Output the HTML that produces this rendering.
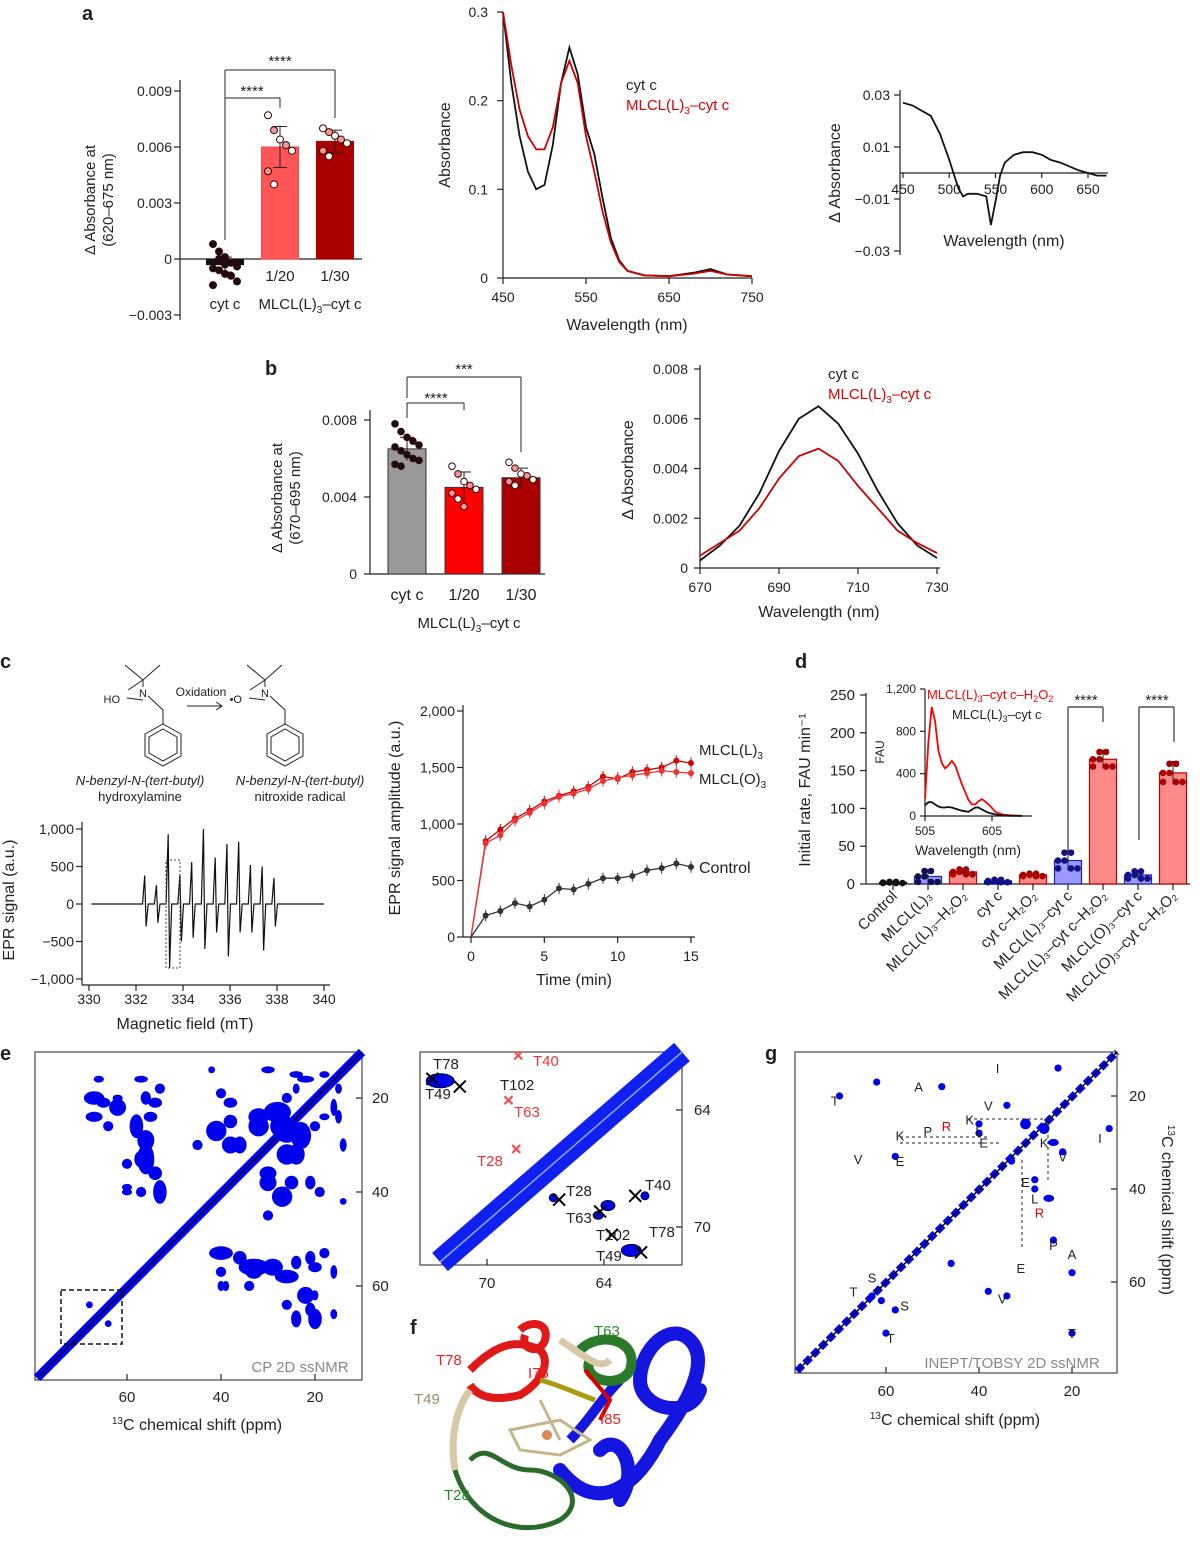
<!DOCTYPE html>
<html><head><meta charset="utf-8">
<style>
body{margin:0;background:#fff;}
svg{display:block;font-family:"Liberation Sans",sans-serif;}
text{fill:#222;}
</style></head>
<body>
<svg id="fig" width="1200" height="1544" viewBox="0 0 1200 1544" xmlns="http://www.w3.org/2000/svg">
<g id="root"></g>
</svg>
<script>
// ===== Data =====
const aCats=["cyt c","1/20","1/30"];
const aVals=[-0.0003,0.0060,0.0063];
const aErr=[0.0004,0.0011,0.0006];
const aPts=[[0.0008,0.0004,0.0001,-0.0002,-0.0004,-0.0005,-0.0006,-0.0008,-0.0009,-0.0012,-0.0014,0.0,-0.0003],[0.0077,0.0069,0.0064,0.0061,0.0058,0.0047,0.0040],[0.0070,0.0068,0.0066,0.0064,0.0062,0.0058,0.0055]];
const aWl=[450,460,470,480,490,500,510,520,530,540,550,560,570,580,590,600,620,650,680,700,720,750];
const aBlack=[0.3,0.22,0.16,0.12,0.1,0.105,0.15,0.22,0.26,0.23,0.17,0.14,0.09,0.045,0.02,0.008,0.003,0.002,0.006,0.01,0.004,0.002];
const aRed=[0.3,0.24,0.19,0.16,0.145,0.145,0.17,0.22,0.245,0.22,0.16,0.12,0.075,0.04,0.018,0.008,0.003,0.002,0.005,0.008,0.004,0.002];
const dWl=[450,460,470,480,490,500,510,515,520,530,540,545,550,555,560,570,580,590,600,610,620,640,660,670];
const dVal=[0.027,0.026,0.024,0.022,0.015,0.005,-0.006,-0.009,-0.008,-0.008,-0.009,-0.020,-0.011,-0.001,0.004,0.007,0.008,0.008,0.007,0.005,0.004,0.001,-0.001,-0.001];
const bCats=["cyt c","1/20","1/30"];
const bVals=[0.0065,0.0045,0.0050];
const bErr=[0.0006,0.0008,0.0005];
const bPts=[[0.0078,0.0074,0.0071,0.0069,0.0067,0.0066,0.0064,0.0062,0.0060,0.0059,0.0057,0.0056],[0.0056,0.0052,0.0048,0.0046,0.0044,0.0042,0.0039,0.0035],[0.0058,0.0055,0.0052,0.0051,0.0049,0.0048,0.0046]];
const bWl=[670,675,680,685,690,695,700,705,710,715,720,725,730];
const bBlack=[0.0003,0.0009,0.0017,0.0030,0.0047,0.0060,0.0065,0.0058,0.0046,0.0031,0.0018,0.0009,0.0004];
const bRed=[0.0005,0.0010,0.0015,0.0024,0.0036,0.0045,0.0048,0.0043,0.0033,0.0024,0.0015,0.0010,0.0006];
const eprPos=[332.4,332.9,333.4,333.9,334.4,334.9,335.4,335.9,336.4,336.9,337.4,337.9];
const eprUp=[380,250,930,400,560,1000,620,800,830,520,500,350];
const eprDn=[-300,-250,-850,-500,-450,-600,-380,-700,-380,-380,-620,-300];
const tTime=[1,2,3,4,5,6,7,8,9,10,11,12,13,14,15];
const kL=[850,950,1050,1120,1200,1250,1290,1330,1420,1400,1460,1480,1500,1560,1540];
const kO=[830,900,1030,1100,1180,1240,1270,1310,1380,1410,1430,1450,1470,1460,1450];
const kC=[190,230,300,270,330,430,420,470,520,520,540,590,610,650,620];
const dCats=["Control","MLCL(L)₃","MLCL(L)₃–H₂O₂","cyt c","cyt c–H₂O₂","MLCL(L)₃–cyt c","MLCL(L)₃–cyt c–H₂O₂","MLCL(O)₃–cyt c","MLCL(O)₃–cyt c–H₂O₂"];
const dVals=[2,10,16,4,12,31,165,12,147];
const dErr=[1,9,4,2,2,13,12,6,15];
const dInWl=[505,510,515,520,525,530,535,540,545,550,560,570,575,580,585,590,600,610,620,630,640,650];
const dInRed=[160,700,1030,900,620,500,450,480,520,480,300,150,110,110,140,160,110,40,15,8,4,2];
const dInBlack=[100,130,130,110,90,80,80,85,80,70,50,40,60,80,80,60,30,15,6,3,2,1];
const ePeaks=[[67,20,6,4],[65,21,4,3],[62,22,5,5],[53,18,3,3],[54,21,4,3],[67,24,5,3],[58,26,4,7],[57,33,4,5],[57,40,3,3],[60,40,3,2],[64,26,3,3],[40,19,3,3],[38,21,4,3],[41,27,6,6],[38,30,5,5],[32,26,6,6],[28,23,8,6],[26,27,7,7],[24,32,5,6],[30,36,5,4],[25,38,4,4],[20,26,3,3],[18,24,3,2],[16,22,2,5],[14,30,2,4],[42,14,2,2],[30,14,3,2],[24,15,4,2],[18,15,3,2],[40,53,7,4],[36,54,4,4],[33,56,9,5],[29,56,6,5],[24,55,3,4],[20,56,4,3],[20,62,2,3],[16,57,2,4],[16,66,2,3],[30,45,3,3],[34,60,3,3],[39,60,2,3],[64,68,2,2]];
const fPeaksBlack=[[72.8,62.4],[71.4,62.8],[66.3,68.6],[64.2,69.2],[62.4,68.4],[63.6,70.4],[62.1,71.3]];
const gPeaks=[[70,20,2,2],[62,17,2,2],[48,18,2,2],[40,28,2,2],[30,26,3,3],[26,27,3,3],[24,30,3,2],[22,32,2,2],[12,27,2,2],[58,33,2,2],[23,14,2,2],[34,22,2,2],[40,26,2,2],[28,40,2,2],[25,42,3,2],[46,56,2,2],[28,38,2,2],[20,58,2,2],[24,51,2,2],[63,63,2,2],[61,64,2,2],[58,66,2,2],[34,63,2,2],[60,71,2,2],[20,71,2,2],[38,62,2,2],[33,34,2,2]];
const gLabels=[["A",53,18,"#222"],["I",36,14,"#222"],["V",38,22,"#222"],["T",71,21,"#222"],["K",42,25,"#222"],["L",40,27.5,"#222"],["R",47,26.5,"#d00"],["P",51,27.5,"#222"],["K",57,28.5,"#222"],["E",39,30,"#222"],["V",66,33.5,"#222"],["E",57,34,"#222"],["K",26,30,"#222"],["V",22,33,"#222"],["I",14,29,"#222"],["E",30,38.5,"#222"],["L",28,42,"#222"],["R",27,45,"#d00"],["P",24,52,"#222"],["A",20,54,"#222"],["E",31,57,"#222"],["S",63,59,"#222"],["T",67,62,"#222"],["S",56,65,"#222"],["V",35,63.5,"#222"],["T",59,72,"#222"],["T",20,71,"#222"]];

const NS="http://www.w3.org/2000/svg";
const root=document.getElementById('root');
function el(tag,attrs,parent,txt){const e=document.createElementNS(NS,tag);for(const k in attrs)e.setAttribute(k,attrs[k]);if(txt!==undefined)e.textContent=txt;(parent||root).appendChild(e);return e;}
function lin(d0,d1,r0,r1){return v=>r0+(v-d0)*(r1-r0)/(d1-d0);}
function txt(x,y,s,size,anchor,parent,extra){return el('text',Object.assign({x:x,y:y,'font-size':size||14,'text-anchor':anchor||'middle'},extra||{}),parent,s);}
function line(x1,y1,x2,y2,parent,c,w){return el('line',{x1,y1,x2,y2,stroke:c||'#222','stroke-width':w||1.2},parent);}
function path(xs,ys,X,Y,c,w,parent){let d='';xs.forEach((v,i)=>{d+=(i?'L':'M')+X(v).toFixed(1)+','+Y(ys[i]).toFixed(1);});return el('path',{d,fill:'none',stroke:c,'stroke-width':w||1.5},parent);}
function panelLabel(s,x,y){const t=el('text',{x,y,'font-size':20,'font-weight':'bold'},root,s);}

panelLabel('a',82,20);panelLabel('b',265,375);panelLabel('c',0,668);panelLabel('d',795,668);panelLabel('e',0,1060);panelLabel('f',410,1334);panelLabel('g',765,1060);

(function(){
const g=el('g',{});
const Y=lin(0,0.009,259,91);const xs=[225,280,335];const bw=37;const cols=['#111','#f44','#a00'];const fills=['#111','#f55','#a00'];
line(180,80,180,320,g);
[[0.009,'0.009'],[0.006,'0.006'],[0.003,'0.003'],[0,'0'],[-0.003,'−0.003']].forEach(([v,s])=>{line(174,Y(v),180,Y(v),g);txt(172,Y(v)+5,s,14,'end',g);});
line(180,259,362,259,g);
aVals.forEach((v,i)=>{const b=el('rect',{x:xs[i]-bw/2,y:Math.min(Y(v),259),width:bw,height:Math.abs(Y(v)-259),fill:fills[i],stroke:cols[i]},g);
line(xs[i],Y(v+aErr[i]),xs[i],Y(v-aErr[i]),g,'#222',1);line(xs[i]-7,Y(v+aErr[i]),xs[i]+7,Y(v+aErr[i]),g,'#222',1);line(xs[i]-7,Y(v-aErr[i]),xs[i]+7,Y(v-aErr[i]),g,'#222',1);
aPts[i].forEach((p,j)=>{el('circle',{cx:xs[i]-12+(j%5)*6,cy:Y(p),r:3.5,fill:i==0?'#111':(j%2?'#e99':'#fff'),stroke:'#400','stroke-width':1},g);});});
txt(225,309,'cyt c',15,'middle',g);txt(280,281,'1/20',15,'middle',g);txt(335,281,'1/30',15,'middle',g);
const t=txt(310,309,'MLCL(L)',15,'middle',g);el('tspan',{'font-size':10,dy:4},t,'3');el('tspan',{dy:-4},t,'–cyt c');
line(225,240,225,70,g,'#222',1);line(225,70,335,70,g,'#222',1);line(335,70,335,118,g,'#222',1);txt(280,66,'****',15,'middle',g);
line(225,98,280,98,g,'#222',1);line(280,98,280,108,g,'#222',1);txt(252,96,'****',15,'middle',g);
txt(0,0,'Δ Absorbance at',15,'middle',g,{transform:'translate(95,200) rotate(-90)'});
txt(0,0,'(620–675 nm)',15,'middle',g,{transform:'translate(113,200) rotate(-90)'});
})();

(function(){
const g=el('g',{});
const X=lin(450,750,503,752),Y=lin(0,0.3,278,12);
line(503,12,503,278,g);line(503,278,752,278,g);
[0,0.1,0.2,0.3].forEach(v=>{line(497,Y(v),503,Y(v),g);txt(488,Y(v)+5,String(v),14,'end',g);});
[450,550,650,750].forEach(v=>{line(X(v),278,X(v),284,g);txt(X(v),302,String(v),14,'middle',g);});
path(aWl,aBlack,X,Y,'#111',1.8,g);path(aWl,aRed,X,Y,'#c00',1.8,g);
txt(627,330,'Wavelength (nm)',16,'middle',g);txt(0,0,'Absorbance',16,'middle',g,{transform:'translate(450,145) rotate(-90)'});
txt(626,90,'cyt c',15,'start',g);const t=txt(626,110,'MLCL(L)',15,'start',g);t.style.fill='#d00';el('tspan',{'font-size':10,dy:4},t,'3');el('tspan',{dy:-4},t,'–cyt c');
})();

(function(){
const g=el('g',{});
const X=lin(450,650,903,1088),Y=lin(0.03,-0.03,95,251);
line(900,90,900,255,g);line(900,Y(0),1108,Y(0),g);
[[0.03,'0.03'],[0.01,'0.01'],[-0.01,'−0.01'],[-0.03,'−0.03']].forEach(([v,s])=>{line(894,Y(v),900,Y(v),g);txt(890,Y(v)+5,s,14,'end',g);});
[450,500,550,600,650].forEach(v=>{line(X(v),Y(0),X(v),Y(0)+5,g);txt(X(v),194,String(v),14,'middle',g);});
path(dWl,dVal,X,Y,'#111',1.8,g);
txt(1004,246,'Wavelength (nm)',16,'middle',g);txt(0,0,'Δ Absorbance',16,'middle',g,{transform:'translate(840,173) rotate(-90)'});
})();

(function(){
const g=el('g',{});
const Y=lin(0,0.008,574,420);const xs=[407,464,521];const bw=38;const fills=['#999','#f00','#a00'];
line(370,410,370,574,g);line(370,574,545,574,g);
[[0.008,'0.008'],[0.004,'0.004'],[0,'0']].forEach(([v,s])=>{line(364,Y(v),370,Y(v),g);txt(357,Y(v)+5,s,14,'end',g);});
bVals.forEach((v,i)=>{const b=el('rect',{x:xs[i]-bw/2,y:Y(v),width:bw,height:574-Y(v),fill:fills[i],stroke:'#333'},g);
line(xs[i],Y(v+bErr[i]),xs[i],Y(v-bErr[i]),g,'#222',1);line(xs[i]-7,Y(v+bErr[i]),xs[i]+7,Y(v+bErr[i]),g,'#222',1);
bPts[i].forEach((p,j)=>{el('circle',{cx:xs[i]-12+(j%5)*6,cy:Y(p),r:3.3,fill:i==0?'#111':(j%2?'#e99':'#fff'),stroke:'#400'},g);});
txt(xs[i],600,bCats[i],16,'middle',g);});
const t=txt(469,628,'MLCL(L)',15,'middle',g);el('tspan',{'font-size':10,dy:4},t,'3');el('tspan',{dy:-4},t,'–cyt c');
line(407,418,407,403,g,'#222',1);line(407,403,464,403,g,'#222',1);line(464,403,464,410,g,'#222',1);txt(436,403,'****',15,'middle',g);
line(407,398,407,377,g,'#222',1);line(407,377,521,377,g,'#222',1);line(521,377,521,452,g,'#222',1);txt(464,374,'***',15,'middle',g);
txt(0,0,'Δ Absorbance at',15,'middle',g,{transform:'translate(282,498) rotate(-90)'});txt(0,0,'(670–695 nm)',15,'middle',g,{transform:'translate(300,498) rotate(-90)'});
})();

(function(){
const g=el('g',{});
const X=lin(670,730,700,937),Y=lin(0,0.008,568,369);
line(700,365,700,568,g);line(700,568,940,568,g);
[[0,'0'],[0.002,'0.002'],[0.004,'0.004'],[0.006,'0.006'],[0.008,'0.008']].forEach(([v,s])=>{line(694,Y(v),700,Y(v),g);txt(688,Y(v)+5,s,14,'end',g);});
[670,690,710,730].forEach(v=>{line(X(v),568,X(v),574,g);txt(X(v),592,String(v),14,'middle',g);});
path(bWl,bBlack,X,Y,'#111',1.8,g);path(bWl,bRed,X,Y,'#c00',1.8,g);
txt(819,617,'Wavelength (nm)',16,'middle',g);txt(0,0,'Δ Absorbance',16,'middle',g,{transform:'translate(633,470) rotate(-90)'});
txt(828,379,'cyt c',15,'start',g);const t=txt(828,399,'MLCL(L)',15,'start',g);t.style.fill='#d00';el('tspan',{'font-size':10,dy:4},t,'3');el('tspan',{dy:-4},t,'–cyt c');
})();

(function(){
const g=el('g',{});
function mol(ox,radical){
 el('path',{d:`M${ox+125},665 L${ox+143},680 L${ox+160},665 M${ox+143},680 L${ox+128},690 M${ox+143},680 L${ox+143},687 M${ox+143},700 L${ox+127},698 M${ox+148},696 L${ox+163},710 L${ox+163},724`,fill:'none',stroke:'#222'},g);
 txt(ox+143,697,'N',11,'middle',g);txt(ox+120,703,radical?'•O':'HO',11,'end',g);
 el('polygon',{points:`${ox+163},724 ${ox+181},734 ${ox+181},756 ${ox+163},766 ${ox+145},756 ${ox+145},734`,fill:'none',stroke:'#222'},g);
 el('polygon',{points:`${ox+163},729 ${ox+177},737 ${ox+177},753 ${ox+163},761 ${ox+149},753 ${ox+149},737`,fill:'none',stroke:'#222'},g);
}
mol(0,false);mol(122,true);
el('path',{d:'M187,706 L222,706 M216,702 L222,706 L216,710',fill:'none',stroke:'#222'},g);txt(201,696,'Oxidation',12,'middle',g);
txt(140,785,'N-benzyl-N-(tert-butyl)',13,'middle',g,{'font-style':'italic'});txt(140,801,'hydroxylamine',13,'middle',g);
txt(300,785,'N-benzyl-N-(tert-butyl)',13,'middle',g,{'font-style':'italic'});txt(300,801,'nitroxide radical',13,'middle',g);
})();

(function(){
const g=el('g',{});
const X=lin(330,340,89,324),Y=lin(0,1000,904,829);
line(82,822,82,985,g);line(82,985,330,985,g);
[[1000,'1,000'],[500,'500'],[0,'0'],[-500,'−500'],[-1000,'−1,000']].forEach(([v,s])=>{line(76,Y(v),82,Y(v),g);txt(74,Y(v)+5,s,14,'end',g);});
[330,332,334,336,338,340].forEach(v=>{line(X(v),985,X(v),991,g);txt(X(v),1004,String(v),14,'middle',g);});
let d=`M${X(330.1)},${Y(0)}`;eprPos.forEach((p,i)=>{d+=` L${X(p-0.12)},${Y(0)} L${X(p-0.03)},${Y(eprUp[i])} L${X(p+0.03)},${Y(eprDn[i])} L${X(p+0.12)},${Y(0)}`;});d+=` L${X(340)},${Y(0)}`;
el('path',{d,fill:'none',stroke:'#111','stroke-width':1.2},g);
el('rect',{x:166,y:860,width:14,height:108,fill:'none',stroke:'#444','stroke-dasharray':'2,2'},g);
txt(185,1029,'Magnetic field (mT)',16,'middle',g);txt(0,0,'EPR signal (a.u.)',16,'middle',g,{transform:'translate(14,900) rotate(-90)'});
})();

(function(){
const g=el('g',{});
const X=lin(0,15,471,691),Y=lin(0,2000,937,711);
line(463,705,463,937,g);line(463,937,695,937,g);
[0,500,1000,1500,2000].forEach(v=>{line(457,Y(v),463,Y(v),g);txt(455,Y(v)+5,v>=1000?v.toLocaleString('en-US'):String(v),14,'end',g);});
[0,5,10,15].forEach(v=>{line(X(v),937,X(v),943,g);txt(X(v),961,String(v),14,'middle',g);});
[[kL,'#c00'],[kO,'#e33'],[kC,'#333']].forEach(([arr,c])=>{path([0].concat(tTime),[0].concat(arr),X,Y,c,1.3,g);arr.forEach((v,i)=>{line(X(tTime[i]),Y(v+50),X(tTime[i]),Y(v-50),g,c,1);el('circle',{cx:X(tTime[i]),cy:Y(v),r:3,fill:c},g);});});
txt(574,985,'Time (min)',16,'middle',g);txt(0,0,'EPR signal amplitude (a.u.)',16,'middle',g,{transform:'translate(400,818) rotate(-90)'});
let t=txt(699,755,'MLCL(L)',15,'start',g);el('tspan',{'font-size':10,dy:4},t,'3');
t=txt(699,784,'MLCL(O)',15,'start',g);el('tspan',{'font-size':10,dy:4},t,'3');
txt(699,873,'Control',16,'start',g);
})();

(function(){
const g=el('g',{});
const Y=lin(0,250,884,695);const X=i=>893+i*35;const bw=27;
const fills=['#111','#99f','#f88','#00a','#f88','#99f','#f88','#99f','#f88'];const strokes=['#111','#22a','#b00','#00a','#b00','#22a','#b00','#22a','#b00'];const dots=['#111','#115','#a00','#118','#a00','#118','#a00','#118','#a00'];
line(866,693,866,884,g);line(866,884,1190,884,g);
[0,50,100,150,200,250].forEach(v=>{line(860,Y(v),866,Y(v),g);txt(855,Y(v)+5,String(v),15,'end',g);});
dVals.forEach((v,i)=>{const b=el('rect',{x:X(i)-bw/2,y:Y(v),width:bw,height:884-Y(v),fill:fills[i],stroke:strokes[i],'stroke-width':1.2},g);
line(X(i),Y(v+dErr[i]),X(i),Y(v-dErr[i]),g,'#222',1);line(X(i)-6,Y(v+dErr[i]),X(i)+6,Y(v+dErr[i]),g,'#222',1);
for(let j=0;j<7;j++){el('circle',{cx:X(i)-10+(j%4)*6.5,cy:Y(v+dErr[i]*((j%3)-1)*0.8),r:3.3,fill:dots[i]},g);}
line(X(i),884,X(i),890,g);
txt(0,0,dCats[i],15,'end',g,{transform:`translate(${X(i)+5},${897}) rotate(-45)`});});
line(1068,855,1068,707,g,'#333',1.2);line(1068,707,1103,707,g,'#333',1.2);line(1103,707,1103,722,g,'#333',1.2);txt(1086,705,'****',15,'middle',g);
line(1139,840,1139,707,g,'#333',1.2);line(1139,707,1174,707,g,'#333',1.2);line(1174,707,1174,742,g,'#333',1.2);txt(1157,705,'****',15,'middle',g);
txt(0,0,'Initial rate, FAU min⁻¹',16,'middle',g,{transform:'translate(810,790) rotate(-90)'});
const XI=lin(505,605,925,992),YI=lin(0,1200,816,689);
line(925,689,925,816,g);line(925,816,1032,816,g);
[[0,'0'],[400,'400'],[800,'800'],[1200,'1,200']].forEach(([v,s])=>{line(920,YI(v),925,YI(v),g);txt(916,YI(v)+4,s,12,'end',g);});
[505,605].forEach(v=>{line(XI(v),816,XI(v),821,g);txt(XI(v),835,String(v),12,'middle',g);});
path(dInWl,dInRed,XI,YI,'#f00',1.8,g);path(dInWl,dInBlack,XI,YI,'#111',1.8,g);
txt(968,855,'Wavelength (nm)',14,'middle',g);txt(0,0,'FAU',12,'middle',g,{transform:'translate(884,752) rotate(-90)'});
let t=txt(927,699,'MLCL(L)',13,'start',g);t.style.fill='#f00';el('tspan',{'font-size':9,dy:3},t,'3');el('tspan',{dy:-3},t,'–cyt c–H');el('tspan',{'font-size':9,dy:3},t,'2');el('tspan',{dy:-3},t,'O');el('tspan',{'font-size':9,dy:3},t,'2');
t=txt(952,719,'MLCL(L)',13,'start',g);el('tspan',{'font-size':9,dy:3},t,'3');el('tspan',{dy:-3},t,'–cyt c');
})();

(function(){
const g=el('g',{});
const X=lin(20,60,315,127),Y=lin(20,60,1098,1286);
el('rect',{x:35,y:1052,width:327,height:328,fill:'#fff',stroke:'#222'},g);
el('line',{x1:37,y1:1378,x2:362,y2:1052,stroke:'#00f','stroke-width':9},g);line(37,1378,362,1052,g,'#000',1.5);
ePeaks.forEach(p=>{el('ellipse',{cx:X(p[0]),cy:Y(p[1]),rx:p[2]*1.7,ry:p[3]*1.7,fill:'#0000ee'},g);el('ellipse',{cx:X(p[1]),cy:Y(p[0]),rx:p[3]*1.7,ry:p[2]*1.7,fill:'#0000ee'},g);});
el('rect',{x:61,y:1290,width:61,height:54,fill:'none',stroke:'#111','stroke-dasharray':'5,3','stroke-width':1.5},g);
[60,40,20].forEach(v=>{line(X(v),1380,X(v),1374,g);txt(X(v),1402,String(v),15,'middle',g);line(362,Y(v),356,Y(v),g);txt(372,Y(v)+5,String(v),15,'start',g);});
txt(300,1372,'CP 2D ssNMR',15,'middle',g).style.fill='#888';
const t=txt(197,1430,'',16,'middle',g);el('tspan',{'font-size':10,dy:-6},t,'13');el('tspan',{dy:6},t,'C chemical shift (ppm)');
})();

(function(){
const g=el('g',{});
const X=lin(70,64,487,604),Y=lin(64,70,1110,1227);
el('rect',{x:420,y:1052,width:262,height:213,fill:'#fff',stroke:'#222'},g);
el('line',{x1:440,y1:1262,x2:682,y2:1052,stroke:'#1020f0','stroke-width':24},g);el('line',{x1:440,y1:1262,x2:682,y2:1052,stroke:'#8af','stroke-width':1.5},g);
const gpk=[[72.4,62.5,14,7],[63.8,68.9,7,5],[62.6,71.2,10,6],[64.3,69.4,5,4],[66.6,68.5,4,4],[61.9,68.4,4,4]];
gpk.forEach(p=>el('ellipse',{cx:X(p[0]),cy:Y(p[1]),rx:p[2],ry:p[3],fill:'#00e',stroke:'#003'},g));
fPeaksBlack.forEach(p=>{const x=X(p[0]),y=Y(p[1]);line(x-6,y-6,x+6,y+6,g,'#000',2);line(x-6,y+6,x+6,y-6,g,'#000',2);});
[[68.4,61.2],[68.9,63.5],[68.5,66.0]].forEach(p=>{const x=X(p[0]),y=Y(p[1]);line(x-4,y-4,x+4,y+4,g,'#f44',2);line(x-4,y+4,x+4,y-4,g,'#f44',2);});
[["T40",533,1066],["T63",514,1117],["T28",477,1166]].forEach(l=>{const t=txt(l[1],l[2],l[0],15,'start',g);t.style.fill='#e33';});
[["T78",433,1069],["T49",425,1099],["T102",500,1090],["T28",566,1196],["T63",566,1223],["T40",645,1190],["T78",649,1237],["T102",596,1240],["T49",596,1261]].forEach(l=>txt(l[1],l[2],l[0],15,'start',g));
[70,64].forEach(v=>{line(X(v),1265,X(v),1259,g);txt(X(v),1288,String(v),15,'middle',g);line(682,Y(v),676,Y(v),g);txt(694,Y(v)+5,String(v),15,'start',g);});
})();

(function(){
const g=el('g',{});
el('path',{d:'M560,1470 C600,1520 640,1480 660,1440 C690,1400 710,1360 690,1340 C670,1320 640,1350 640,1380 C640,1410 690,1420 700,1390 M600,1450 C620,1430 640,1470 620,1500',fill:'none',stroke:'#1515e0','stroke-width':14,'stroke-linecap':'round'},g);
el('path',{d:'M570,1440 C590,1420 600,1400 620,1380',fill:'none',stroke:'#1515e0','stroke-width':10},g);
el('path',{d:'M455,1470 C470,1520 520,1540 560,1520 C590,1500 560,1470 530,1470 C500,1470 490,1440 470,1460',fill:'none',stroke:'#2a6a2a','stroke-width':5},g);
el('path',{d:'M580,1350 C600,1330 640,1340 630,1370 C620,1390 580,1380 590,1360',fill:'none',stroke:'#2a7a2a','stroke-width':10},g);
el('path',{d:'M470,1370 C500,1340 520,1340 540,1350 C550,1360 545,1380 520,1395 C500,1400 480,1400 470,1385',fill:'none',stroke:'#e01818','stroke-width':8},g);
el('path',{d:'M520,1330 C530,1320 550,1322 545,1340 C540,1355 520,1350 525,1335',fill:'none',stroke:'#e01818','stroke-width':8},g);
el('path',{d:'M585,1370 L610,1400 L600,1420',fill:'none',stroke:'#d00','stroke-width':4},g);
el('path',{d:'M470,1390 C455,1410 450,1440 455,1470 M560,1340 C590,1360 600,1370 610,1360',fill:'none',stroke:'#d8c8a8','stroke-width':7},g);
el('path',{d:'M510,1430 L560,1420 L590,1440 L560,1455 L520,1450 Z M540,1400 L560,1440',fill:'none',stroke:'#c9b48a','stroke-width':3},g);
el('circle',{cx:547,cy:1435,r:5,fill:'#d85'},g);
el('path',{d:'M540,1380 C560,1385 580,1395 595,1400',fill:'none',stroke:'#a99a10','stroke-width':5},g);
[["T63",594,1336,'#2a8a2a'],["T78",436,1365,'#e22'],["I75",528,1378,'#e22'],["T49",414,1404,'#9c8a6a'],["I85",600,1424,'#e22'],["T28",444,1500,'#2a8a2a']].forEach(l=>{const t=txt(l[1],l[2],l[0],15,'start',g);t.style.fill=l[3];});
})();

(function(){
const g=el('g',{});
const X=lin(20,60,1072,886),Y=lin(20,60,1096,1282);
el('rect',{x:795,y:1052,width:322,height:321,fill:'#fff',stroke:'#222'},g);
el('line',{x1:797,y1:1371,x2:1117,y2:1052,stroke:'#00f','stroke-width':7,'stroke-dasharray':'8,3'},g);line(797,1371,1117,1052,g,'#000',1.5);
gPeaks.forEach(p=>el('ellipse',{cx:X(p[0]),cy:Y(p[1]),rx:p[2]*1.8,ry:p[3]*1.8,fill:'#0000ee'},g));
gLabels.forEach(l=>{const t=txt(X(l[1]),Y(l[2])+5,l[0],13,'middle',g);t.style.fill=l[3];});
el('path',{d:'M900,1143 L1000,1143 M900,1137 L990,1137 M968,1119 L1048,1119 L1048,1180 M1022,1160 L1022,1250',fill:'none',stroke:'#222','stroke-dasharray':'3,3'},g);
[60,40,20].forEach(v=>{line(X(v),1373,X(v),1367,g);txt(X(v),1396,String(v),15,'middle',g);line(1117,Y(v),1111,Y(v),g);txt(1129,Y(v)+5,String(v),15,'start',g);});
txt(1012,1368,'INEPT/TOBSY 2D ssNMR',15,'middle',g).style.fill='#888';
let t=txt(955,1425,'',16,'middle',g);el('tspan',{'font-size':10,dy:-6},t,'13');el('tspan',{dy:6},t,'C chemical shift (ppm)');
t=txt(0,0,'',16,'middle',g,{transform:'translate(1162,1210) rotate(90)'});el('tspan',{'font-size':10,dy:-6},t,'13');el('tspan',{dy:6},t,'C chemical shift (ppm)');
})();
</script>
</body></html>
